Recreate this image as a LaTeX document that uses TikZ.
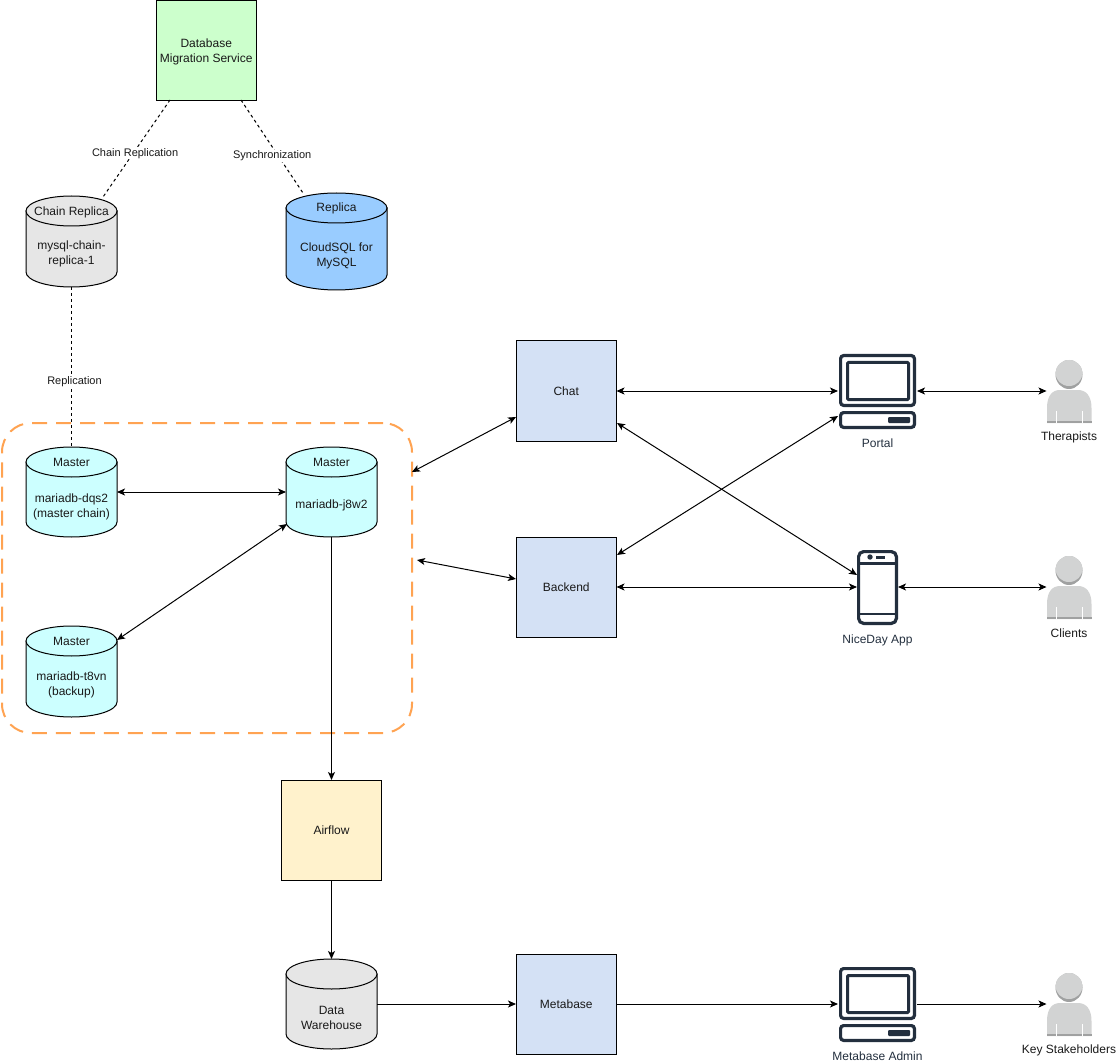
\documentclass[tikz,border=0pt]{standalone}
\usepackage{fontspec}
\setmainfont{Liberation Sans}
\usetikzlibrary{arrows.meta}
\definecolor{inkc}{HTML}{232F3E}
\definecolor{persl}{HTML}{D2D3D3}
\definecolor{persd}{HTML}{A0A1A1}
\definecolor{cyanc}{HTML}{CCFFFF}
\definecolor{greyc}{HTML}{E6E6E6}
\definecolor{bluec}{HTML}{99CCFF}
\definecolor{greenc}{HTML}{CCFFCC}
\definecolor{yellc}{HTML}{FFF2CC}
\definecolor{svcc}{HTML}{D4E1F5}
\definecolor{orangec}{HTML}{FFA352}
\tikzset{
  txt/.style={font=\fontsize{12}{15}\selectfont, align=center, inner sep=0pt, text=black!90},
  iconlabel/.style={font=\fontsize{12}{15}\selectfont, align=center, inner sep=0pt, text=inkc},
  edgelabel/.style={font=\fontsize{11}{13}\selectfont, fill=white, inner sep=1pt, text=black!90},
  boxs/.style={draw=black, line width=1pt, inner sep=0pt, outer sep=0pt, minimum width=100.5pt, minimum height=100pt},
  anchorbox/.style={inner sep=0pt, outer sep=0pt},
  both/.style={line width=1pt, {Stealth[length=8pt,width=7pt,inset=2pt]}-{Stealth[length=8pt,width=7pt,inset=2pt]}},
  one/.style={line width=1pt, -{Stealth[length=8pt,width=7pt,inset=2pt]}},
  dashline/.style={line width=1pt, dash pattern=on 3pt off 3pt},
  iconline/.style={draw=inkc, line width=3.2pt, rounded corners=3pt},
}
% name, x1, y1, x2, y2, fill, top text, body y, body text
\newcommand{\cylbox}[9]{%
  \path[draw=black, line width=1pt, fill=#6]
    (#2,#3+15) -- (#4,#3+15) -- (#4,#5-15) arc[start angle=0,end angle=180,x radius={(#4-#2)/2},y radius=15] -- cycle;
  \path[draw=black, line width=1pt, fill=#6]
    (#2,#3+15) arc[start angle=180,end angle=-180,x radius={(#4-#2)/2},y radius=15];
  \node[anchorbox, minimum width={(#4-#2)*1pt}, minimum height={(#5-#3)*1pt}] (#1) at ({(#2+#4)/2},{(#3+#5)/2}) {};
  \node[txt, anchor=base] (#1top) at ({(#2+#4)/2},#3+19) {#7};
  \node[txt] (#1body) at ({(#2+#4)/2},#8) {#9};
}
% name, y offset, label
\newcommand{\monitor}[3]{%
  \begin{scope}[yshift={-#2pt}]
    \draw[iconline] (840.6,355.6) rectangle (914.4,405.4);
    \draw[iconline, line width=3pt, rounded corners=1pt] (847.5,362.5) rectangle (908.5,399.5);
    \draw[iconline] (840.6,412.6) rectangle (914.4,427.4);
    \fill[inkc, rounded corners=1pt] (888,417) rectangle (910,423);
  \end{scope}
  \node[anchorbox, minimum width=79pt, minimum height=75pt] (#1) at (877.5,391+#2) {};
  \node[iconlabel] (#1label) at (877.5,443+#2) {#3};
}
\newcommand{\person}[3]{%
  \begin{scope}[yshift={-#2pt}]
    \fill[persd] (1069,374.5) ellipse[x radius=13.5,y radius=14.5];
    \fill[persl] (1069,373) ellipse[x radius=13.5,y radius=13];
    \fill[persl] (1047,423) -- (1047,408) .. controls (1047,396) and (1052,390) .. (1060,390)
      -- (1078,390) .. controls (1086,390) and (1091.5,396) .. (1091.5,408) -- (1091.5,423) -- cycle;
    \fill[persd] (1047,420.5) rectangle (1091.5,423);
    \draw[white, line width=0.9pt] (1056,411) -- (1056,423);
    \draw[white, line width=0.9pt] (1082,411) -- (1082,423);
  \end{scope}
  \node[anchorbox, minimum width=45pt, minimum height=63pt] (#1) at (1069,391+#2) {};
  \node[txt] (#1label) at (1069,437+#2) {#3};
}
\begin{document}
\begin{tikzpicture}[x=1pt,y=-1pt]
\useasboundingbox (0,0) rectangle (1116,1064);
% region
\node[anchorbox, draw=orangec, line width=2pt, dash pattern=on 15pt off 9pt, rounded corners=29pt, minimum width=410pt, minimum height=310pt] (region) at (207,578) {};
% boxes
\node[boxs, fill=greenc] (dms) at (206.25,50.5) {};
\node[txt] (dmstext) at (206.25,51.5) {Database\\Migration Service};
\node[boxs, fill=svcc] (chat) at (566.25,391) {};
\node[txt] (chattext) at (566.25,391) {Chat};
\node[boxs, fill=svcc] (backend) at (566.25,587) {};
\node[txt] (backendtext) at (566.25,587) {Backend};
\node[boxs, fill=svcc] (metabase) at (566.25,1004) {};
\node[txt] (metabasetext) at (566.25,1004) {Metabase};
\node[boxs, fill=yellc] (airflow) at (331.5,830) {};
\node[txt] (airflowtext) at (331.5,830) {Airflow};
% cylinders
\cylbox{chainrep}{26}{196}{117}{287}{greyc}{\raisebox{-1pt}{Chain Replica}}{254}{mysql-chain-\\replica-1}
\cylbox{replica}{286}{193}{387}{290}{bluec}{Replica}{255.5}{CloudSQL for\\MySQL}
\cylbox{dqs}{26}{447}{117}{537}{cyanc}{Master}{506.5}{mariadb-dqs2\\(master chain)}
\cylbox{jew}{286}{447}{377}{537}{cyanc}{Master}{505.5}{mariadb-j8w2}
\cylbox{tvn}{26}{626}{117}{717}{cyanc}{Master}{684.5}{mariadb-t8vn\\(backup)}
\cylbox{dw}{286}{959}{377}{1049}{greyc}{}{1017.5}{Data\\Warehouse}
% icons
\monitor{portal}{0}{Portal}
\monitor{admin}{613}{Metabase Admin}
\begin{scope}
  \draw[iconline, rounded corners=5pt] (858.6,551.6) rectangle (896.4,623.4);
  \draw[inkc, line width=2.4pt] (858.6,563.5) -- (896.4,563.5);
  \draw[inkc, line width=2.4pt] (858.6,614) -- (896.4,614);
  \fill[inkc] (870,557) circle[radius=2.7];
  \fill[inkc] (876,555.5) rectangle (885,558.5);
\end{scope}
\node[anchorbox, minimum width=41pt, minimum height=75pt] (phone) at (877.5,587) {};
\node[iconlabel] (phonelabel) at (877.5,640) {NiceDay App};
\person{therapists}{0}{Therapists}
\person{clients}{196}{Clients}
\person{stake}{613}{Key Stakeholders}
% free connector ends
\coordinate (dmsL) at (170,100);
\coordinate (dmsR) at (241,100);
\coordinate (crTop) at (103,197);
\coordinate (repTop) at (303,193);
\coordinate (tvnE) at (117,640);
\coordinate (jewW) at (287,524);
\coordinate (regA) at (412,472);
\coordinate (regB) at (417,560);
\coordinate (chatW) at (516,417);
\coordinate (backW) at (516,579);
\coordinate (chatE) at (617,423);
\coordinate (phoneW) at (857,575);
\coordinate (backE) at (617,555);
\coordinate (portalW) at (838,416);
% dashed
\draw[dashline] (dmsL) -- node[edgelabel, pos=0.55, xshift=2pt] {Chain Replication} (crTop);
\draw[dashline] (dmsR) -- node[edgelabel, pos=0.6, xshift=-6pt] {Synchronization} (repTop);
\draw[dashline] (chainrep.south) -- node[edgelabel, pos=0.59, xshift=3pt] {Replication} (dqs.north);
% arrows
\draw[both] (dqs.east) -- (jew.west);
\draw[both] (tvnE) -- (jewW);
\draw[one] (jew.south) -- (airflow.north);
\draw[one] (airflow.south) -- (dw.north);
\draw[one] (dw.east) -- (metabase.west);
\draw[one] (metabase.east) -- (admin.west);
\draw[one] (admin.east) -- (stake.west);
\draw[both] (regA) -- (chatW);
\draw[both] (regB) -- (backW);
\draw[both] (chat.east) -- (portal.west);
\draw[both] (chatE) -- (phoneW);
\draw[both] (backE) -- (portalW);
\draw[both] (backend.east) -- (phone.west);
\draw[both] (portal.east) -- (therapists.west);
\draw[both] (phone.east) -- (clients.west);
\end{tikzpicture}
\end{document}
